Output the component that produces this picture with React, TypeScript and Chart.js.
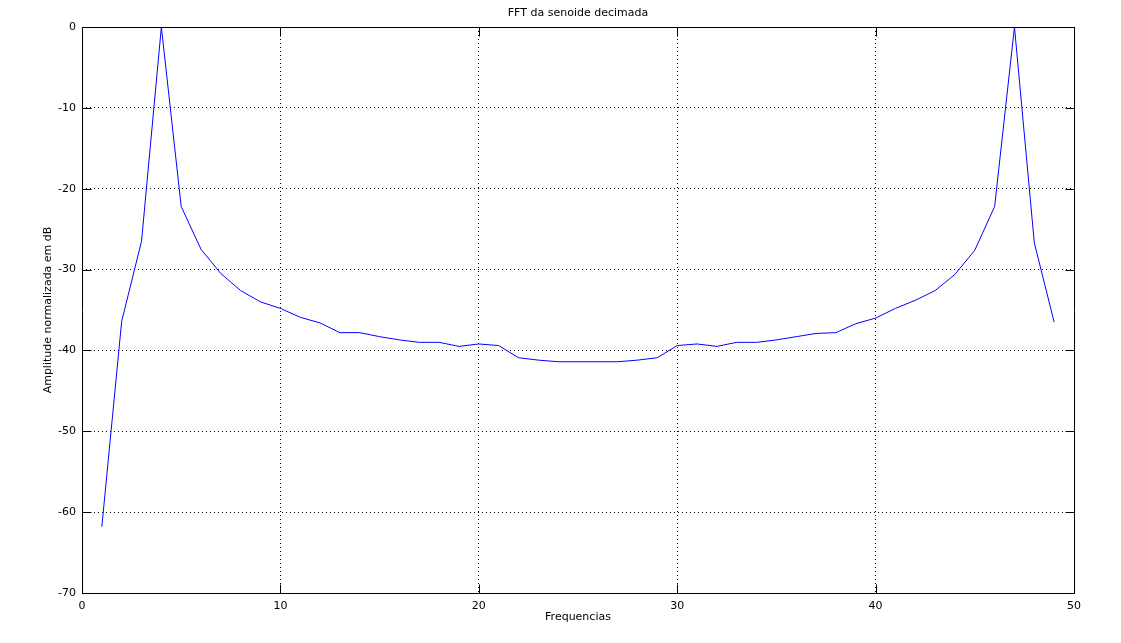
import { useEffect, useRef } from "react";
import { Chart, registerables } from "chart.js";

Chart.register(...registerables);

const FONT_FAMILY = "'DejaVu Sans', sans-serif";
const FONT_SIZE = 11;

const titleText = "FFT da senoide decimada";
const xAxisLabel = "Frequencias";
const yAxisLabel = "Amplitude normalizada em dB";

const frequencies = [
  1, 2, 3, 4, 5, 6, 7, 8, 9, 10,
  11, 12, 13, 14, 15, 16, 17, 18, 19, 20,
  21, 22, 23, 24, 25, 26, 27, 28, 29, 30,
  31, 32, 33, 34, 35, 36, 37, 38, 39, 40,
  41, 42, 43, 44, 45, 46, 47, 48, 49,
];

const amplitudeDb = [
  -61.8, -36.4, -26.5, 0, -22.2, -27.5, -30.5, -32.6, -34.0, -34.8,
  -35.9, -36.6, -37.8, -37.8, -38.3, -38.7, -39.0, -39.0, -39.5, -39.2,
  -39.4, -40.9, -41.2, -41.4, -41.4, -41.4, -41.4, -41.2, -40.9, -39.4,
  -39.2, -39.5, -39.0, -39.0, -38.7, -38.3, -37.9, -37.8, -36.7, -36.0,
  -34.8, -33.8, -32.6, -30.6, -27.6, -22.2, 0, -26.7, -36.5,
];

const xRange = [0, 50];
const xStep = 10;
const yRange = [-70, 0];
const yStep = 10;

const framePlugin = {
  id: "gnuplotFrame",
  afterDraw(chart: any) {
    const { ctx, chartArea: a, scales } = chart;
    const xs = scales.x;
    const ys = scales.y;
    const L = Math.round(a.left) + 0.5;
    const R = Math.round(a.right) + 0.5;
    const T = Math.round(a.top) + 0.5;
    const B = Math.round(a.bottom) + 0.5;
    const tickLen = 9;
    ctx.save();
    ctx.strokeStyle = "#000";
    ctx.lineWidth = 1;
    ctx.setLineDash([]);
    ctx.beginPath();
    ctx.rect(L, T, R - L, B - T);
    ctx.stroke();
    ctx.beginPath();
    for (const t of xs.ticks) {
      const px = Math.round(xs.getPixelForValue(t.value)) + 0.5;
      ctx.moveTo(px, B);
      ctx.lineTo(px, B - tickLen);
      ctx.moveTo(px, T);
      ctx.lineTo(px, T + tickLen);
    }
    for (const t of ys.ticks) {
      const py = Math.round(ys.getPixelForValue(t.value)) + 0.5;
      ctx.moveTo(L, py);
      ctx.lineTo(L + tickLen, py);
      ctx.moveTo(R, py);
      ctx.lineTo(R - tickLen, py);
    }
    ctx.stroke();

    ctx.fillStyle = "#000";
    ctx.font = `${FONT_SIZE}px ${FONT_FAMILY}`;
    ctx.textAlign = "center";
    ctx.textBaseline = "middle";
    const cx = (a.left + a.right) / 2;
    const cy = (a.top + a.bottom) / 2;
    ctx.fillText(titleText, cx, a.top - 14);
    ctx.fillText(xAxisLabel, cx, a.bottom + 24);
    ctx.translate(48, cy);
    ctx.rotate(-Math.PI / 2);
    ctx.fillText(yAxisLabel, 0, 0);
    ctx.restore();
  },
};

export default function App() {
  const canvasRef = useRef<HTMLCanvasElement | null>(null);

  useEffect(() => {
    if (!canvasRef.current) return;
    const chart = new Chart(canvasRef.current, {
      type: "line",
      data: {
        datasets: [
          {
            data: frequencies.map((f, i) => ({ x: f, y: amplitudeDb[i] })),
            borderColor: "rgb(0,0,255)",
            borderWidth: 1,
            pointRadius: 0,
            fill: false,
            tension: 0,
          },
        ],
      },
      options: {
        animation: false,
        responsive: true,
        maintainAspectRatio: false,
        layout: { padding: { top: 27, right: 47, left: 0, bottom: 0 } },
        plugins: {
          legend: { display: false },
          title: { display: false },
          tooltip: { enabled: false },
        },
        scales: {
          x: {
            type: "linear",
            min: xRange[0],
            max: xRange[1],
            ticks: {
              stepSize: xStep,
              color: "#000",
              padding: 7,
              maxRotation: 0,
              font: { family: FONT_FAMILY, size: FONT_SIZE },
            },
            grid: { color: "#000", lineWidth: 1, drawTicks: false },
            border: { display: false, dash: [1, 3] },
            afterFit: (s: any) => {
              s.height = 50;
            },
          },
          y: {
            type: "linear",
            min: yRange[0],
            max: yRange[1],
            ticks: {
              stepSize: yStep,
              color: "#000",
              padding: 6,
              font: { family: FONT_FAMILY, size: FONT_SIZE },
            },
            grid: { color: "#000", lineWidth: 1, drawTicks: false },
            border: { display: false, dash: [1, 3] },
            afterFit: (s: any) => {
              s.width = 82;
            },
          },
        },
      },
      plugins: [framePlugin],
    });
    return () => chart.destroy();
  }, []);

  return (
    <div style={{ position: "absolute", left: 0, top: 0, width: 1121, height: 643, background: "#fff" }}>
      <canvas ref={canvasRef} />
    </div>
  );
}
